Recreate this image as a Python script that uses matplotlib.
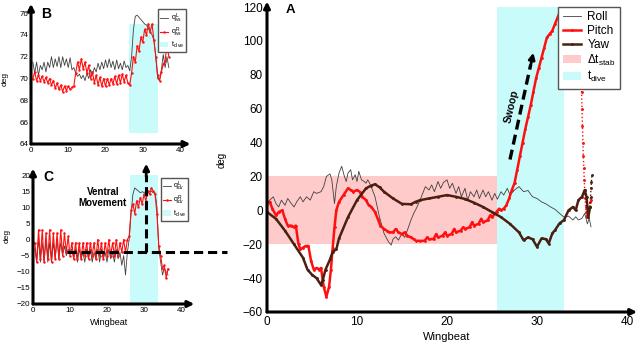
import numpy as np
import matplotlib
matplotlib.use('Agg')
import matplotlib.pyplot as plt

plt.rcParams['font.family'] = ['Liberation Sans', 'DejaVu Sans']

#########################
# DATA
#########################
# Panel A : body angles vs wingbeat
roll_x = [0, 0.3, 0.7, 1.0, 1.3, 1.6, 2.0, 2.3, 2.7, 3.0, 3.3, 3.7, 4.0, 4.4, 4.8, 5.2, 5.5, 6.0, 6.3, 6.6,
          7.0, 7.2, 7.5, 7.7, 8.0, 8.3, 8.6, 8.8, 9.0, 9.3, 9.5, 9.8, 10.0, 10.2, 10.5, 10.8, 11.0, 11.2, 11.5, 12.0,
          12.5, 13.0, 13.5, 13.8, 14.0, 14.3, 14.6, 15.0, 15.3, 15.6, 16.0, 16.3, 16.6, 17.0, 17.3, 17.6, 18.0, 18.3, 18.6, 19.0,
          19.3, 19.6, 20.0, 20.3, 20.6, 21.0, 21.3, 21.6, 22.0, 22.3, 22.6, 23.0, 23.3, 23.6, 24.0, 24.3, 24.6, 25.0, 25.3, 25.6,
          26.0, 26.3, 26.7, 27.0, 27.5, 28.0, 28.5, 29.0, 29.5, 30.0, 30.5, 31.0, 31.5, 32.0, 32.5, 33.0, 33.5, 34.0, 34.3, 34.6,
          35.0, 35.3, 35.6, 35.8, 36.0]
roll_y = [2, 6, 8, 4, 2, 6, 3, 7, 4, 2, 5, 8, 5, 8, 6, 11, 10, 11, 14, 20,
          21.5, 18, 4, 14, 22, 26, 20, 17, 22, 24, 18, 21, 17, 23, 18, 17, 16, 18, 15, 8,
          -4, -13.6, -18.6, -20.5, -17, -15.6, -17.6, -13.6, -16, -11.7, -5.7, -1.8, 1.2, 6, 10, 14, 12, 15, 11, 17,
          13, 16.4, 18, 13, 16, 10, 14, 8, 13, 6, 11, 8, 12, 7, 12, 8, 11, 6, 10, 6.5,
          11, 9, 13, 9, 12, 14, 11, 11.7, 8, 7, 5, 3.8, 2, 0.6, -1.8, -4, -3.4, -5.7, -3.8, -5.7,
          -4.7, -1.8, -8, -4.7, -9.7]

pitch_x = [0, 0.3, 0.6, 1.0, 1.3, 1.7, 2.0, 2.3, 2.7, 3.0, 3.2, 3.5, 3.7, 4.0, 4.3, 4.6, 4.9, 5.2, 5.5, 5.8,
           6.0, 6.3, 6.6, 6.9, 7.1, 7.3, 7.5, 7.7, 8.0, 8.5, 9.0, 9.3, 9.6, 10.0, 10.3, 10.6, 11.0, 11.3, 11.6, 12.0,
           12.3, 12.6, 13.0, 13.3, 13.6, 14.0, 14.3, 14.6, 15.0, 15.3, 15.6, 16.0, 16.3, 16.6, 17.0, 17.5, 17.8, 18.0, 18.5, 18.8,
           19.0, 19.5, 19.8, 20.0, 20.5, 20.8, 21.0, 21.5, 21.8, 22.0, 22.5, 22.8, 23.0, 23.5, 23.8, 24.0, 24.5, 24.8, 25.0, 25.5,
           25.8, 26.0, 26.3, 26.6, 26.9, 27.2, 27.5, 27.8, 28.1, 28.4, 28.7, 29.0, 29.3, 29.6, 29.9, 30.2, 30.5, 30.8, 31.1, 31.4,
           31.7, 32.0, 32.3, 32.6, 33.0]
pitch_y = [5, 5, 1, -3, -1, 0, -5, -9, -9, -10, -9, -20, -23, -22, -21, -21, -30, -35, -34, -35,
           -34, -45, -51, -45, -35, -22, -10, 0, 5, 9, 13, 12, 11, 12, 11, 8, 6, 3, 2, -1,
           -5, -9, -11, -12, -13, -13, -11, -13, -14, -13, -15, -16, -17, -18, -18, -18, -16, -17, -17, -14,
           -16, -15, -13, -15, -14, -11, -13, -12, -10, -11, -10, -7, -9, -8, -5, -7, -6, -3, -4, -1,
           1, 0, 1, 3, 7, 12, 16, 24, 32, 40, 48, 55, 62, 70, 78, 84, 90, 96, 102, 104,
           106, 110, 114, 118, 122]
# sparse tail of pitch (drawn dotted)
pitch_tail_x = [34.85, 34.9, 34.95, 35.0, 35.05, 35.1, 35.15, 35.2, 35.25, 35.3, 35.35, 35.4, 35.45, 35.5,
                35.55, 35.6, 35.7, 35.8, 35.9, 36.0]
pitch_tail_y = [125, 80, 70, 60, 50, 40, 32, 25, 18, 12, 7, 2, -1, -3, -4, -4, -2, 2, 5, 6]

yaw_x = [0, 1, 2, 3, 4, 4.5, 5, 5.5, 6, 6.2, 6.5, 7, 7.3, 7.7, 8, 9, 10, 11, 11.5, 12,
         12.5, 13, 14, 15, 16, 16.5, 17, 18, 19, 20, 21, 22, 23, 24, 25, 26, 27, 28, 28.5, 29,
         29.5, 30, 30.5, 31, 31.3, 31.7, 32, 32.5, 33, 33.5, 34, 34.3, 34.6, 35, 35.3, 35.5, 35.7, 35.9]
yaw_y = [-1, -5, -12, -20, -28, -35, -38, -40, -44, -41, -35, -29, -24.5, -23, -16.6, -4, 6, 13, 14.4, 15.4,
         13.6, 11, 7, 3.8, 3.6, 5, 6, 7, 8, 9, 8, 6.7, 4.5, 2, -1, -4, -8, -13, -17.6, -16,
         -17, -21.5, -16.6, -17, -19.6, -13.6, -11.7, -7.7, -5.7, 0, 2, 0, 6, 8, 12, 8, -4, 2]
yaw_tail_x = [35.9, 35.95, 36.0, 36.05, 36.1]
yaw_tail_y = [2, 8, 13, 17, 21]

STAB_A = [0, 25.5]      # pink band, -20..20 deg
DIVE_A = [25.5, 33.0]   # cyan band

# Panel B : q_vs left/right
wb_half = np.arange(0.5, 37.5, 0.5)
qL_vs = [71.5, 70.5, 71.5, 70.3, 71.2, 70.8, 71.5, 70.6, 71.5, 71.0, 72.0, 71.0, 71.8, 71.1, 72.0, 71.0, 72.0, 71.2, 71.8, 71.0,
         71.9, 70.8, 71.0, 70.5, 70.2, 70.4, 70.0, 70.3, 69.8, 70.5, 70.0, 70.8, 70.3, 71.0, 70.6, 71.4, 70.8, 71.5, 70.9, 71.7,
         71.0, 71.8, 71.0, 71.6, 70.8, 71.7, 70.9, 71.4, 70.8, 71.6, 71.0, 71.2, 70.7, 72.0, 74.5, 75.7, 75.8, 75.6, 75.4, 75.2,
         75.0, 74.9, 74.6, 74.2, 74.0, 73.5, 72.0, 70.0, 69.8, 70.8, 72.2, 71.0, 72.0, 71.0]
qR_vs = [70.0, 70.6, 69.8, 70.3, 69.8, 70.2, 69.7, 70.1, 69.6, 70.0, 69.4, 69.8, 69.1, 69.6, 69.0, 69.4, 68.8, 69.3, 68.9, 69.3,
         69.0, 69.2, 69.3, 70.5, 71.5, 70.8, 71.8, 70.9, 71.5, 70.5, 71.2, 70.0, 70.6, 69.6, 70.3, 69.4, 70.1, 69.3, 70.0, 69.3,
         70.0, 69.4, 70.0, 69.5, 70.2, 69.5, 70.3, 69.6, 70.4, 69.7, 70.3, 69.6, 69.4, 70.5, 72.0, 71.5, 73.0, 72.5, 73.8, 73.3,
         74.5, 74.0, 75.0, 74.3, 75.0, 73.5, 72.0, 70.3, 69.8, 70.6, 71.3, 71.6, 73.2, 72.0]
DIVE_B = [26.3, 34.0]   # cyan box, 65..75 deg

# Panel C : q_dv left/right
wb_c = np.arange(0.5, 37.0, 0.5)
qL_dv = [-3, -7, 0, -7, -1, -7, 0, -7, -1, -7, -1, -6, 0, -6, -1, -5, -2, -5, -3, -4,
         -3, -6, -3, -7, -3, -6, -4, -7, -3, -6, -3, -7, -4, -6, -3, -7, -3, -6, -4, -7,
         -3, -6, -4, -7, -3, -6, -4, -8, -5, -11, -4, 0, 8, 14, 16, 15.5, 15, 14.5, 14.8, 14.6,
         14.8, 14.5, 15, 15, 14.5, 14.5, 10, -3, -7, -11, -9, -10, -11]
qR_dv = [-1, -7, 3, -6, 3, -7, 2, -6, 3, -7, 2, -6, 2, -6, 3, -5, 2, -4, 1, -5,
         -1, -6, -1, -6, -1, -6, -1, -5, -1, -6, -1, -5, -1, -6, 0, -5, -1, -6, -1, -5,
         0, -5, -1, -5, 0, -5, -1, -4, 0, -4, 0, 1, 9, 11, 8, 12, 10, 13, 11, 14,
         12, 15, 14, 16, 15, 14, 8, -2, -5, -9, -8, -12, -9]
DIVE_C = [26.2, 33.7]

#########################
# STYLE
#########################
PINK = '#ffcaca'
CYAN = '#c9fbfb'
RED = '#ff1010'
BROWN = '#4a2010'
GREY = '#404040'


def arrowAxes(ax, xext, yext):
    # black axis lines with arrow heads instead of spines
    for s in ax.spines.values():
        s.set_visible(False)
    kw = dict(arrowstyle='-|>', lw=2.2, color='k', mutation_scale=9, shrinkA=0, shrinkB=0)
    ax.annotate('', xy=(xext, 0), xytext=(0, 0), xycoords='axes fraction', arrowprops=kw)
    ax.annotate('', xy=(0, yext), xytext=(0, 0), xycoords='axes fraction', arrowprops=kw)
    ax.tick_params(length=0)


def smallLegend(ax, anchor):
    h, l = ax.get_legend_handles_labels()
    ax.legend([h[1], h[2], h[0]], [l[1], l[2], l[0]], loc='upper right', bbox_to_anchor=anchor,
              fontsize=5.2, fancybox=False, edgecolor='#555555', framealpha=1, handlelength=1.1,
              labelspacing=0.15, borderpad=0.3, handletextpad=0.3, borderaxespad=0)


fig = plt.figure(figsize=(6.4, 3.47), dpi=100)
W, H = 640.0, 347.0
axA = fig.add_axes([267 / W, 1 - 312 / H, 360 / W, 305 / H])
axB = fig.add_axes([31 / W, 1 - 144 / H, 149 / W, 131 / H])
axC = fig.add_axes([33 / W, 1 - 304 / H, 148 / W, 129 / H])

#########################
# Panel B
#########################
axB.fill_between(DIVE_B, 65, 75, color=CYAN, lw=0, label=r'$\mathregular{t_{dive}}$')
axB.plot(wb_half, qL_vs, color=GREY, lw=0.6, label=r'$\mathregular{q^L_{vs}}$')
axB.plot(wb_half, qR_vs, color=RED, lw=0.8, marker='.', ms=1.5, label=r'$\mathregular{q^R_{vs}}$')
axB.set_xlim(0, 40)
axB.set_ylim(64, 76)
axB.set_xticks([0, 10, 20, 30, 40])
axB.set_yticks(np.arange(64, 77, 2))
axB.tick_params(labelsize=5.8, pad=2)
axB.set_ylabel('deg', fontsize=6)
axB.yaxis.set_label_coords(-0.15, 0.5)
arrowAxes(axB, 1.07, 1.07)
axB.text(0.07, 0.99, 'B', transform=axB.transAxes, fontsize=10, fontweight='bold', va='center')
smallLegend(axB, (1.04, 1.03))

#########################
# Panel C
#########################
axC.fill_between(DIVE_C, -20, 20, color=CYAN, lw=0, label=r'$\mathregular{t_{dive}}$')
axC.plot(wb_c, qL_dv, color=GREY, lw=0.6, label=r'$\mathregular{q^L_{dv}}$')
axC.plot(wb_c, qR_dv, color=RED, lw=0.8, marker='.', ms=1.5, label=r'$\mathregular{q^R_{dv}}$')
axC.set_xlim(0, 40)
axC.set_ylim(-20, 20)
axC.set_xticks([0, 10, 20, 30, 40])
axC.set_yticks(np.arange(-20, 21, 5))
axC.tick_params(labelsize=5.8, pad=2)
axC.set_ylabel('deg', fontsize=6)
axC.yaxis.set_label_coords(-0.15, 0.53)
axC.set_xlabel('Wingbeat', fontsize=6.5)
axC.xaxis.set_label_coords(0.515, -0.11)
arrowAxes(axC, 1.09, 1.05)
axC.text(0.07, 0.985, 'C', transform=axC.transAxes, fontsize=10, fontweight='bold', va='center')
axC.text(18.9, 12.9, 'Ventral\nMovement', fontsize=7, fontweight='bold', ha='center', va='center',
         linespacing=1.1)
# dashed step arrow
axC.plot([9.3, 52.4], [-4, -4], color='k', lw=2.2, ls=(0, (3, 1.6)), clip_on=False)
axC.plot([30.6, 30.6], [-4, 20], color='k', lw=2.2, ls=(0, (3, 1.6)), clip_on=False)
axC.annotate('', xy=(30.6, 23.5), xytext=(30.6, 19.5), annotation_clip=False,
             arrowprops=dict(arrowstyle='-|>', lw=2, color='k', mutation_scale=9, shrinkA=0, shrinkB=0))
smallLegend(axC, (1.05, 0.98))

#########################
# Panel A
#########################
axA.fill_between(STAB_A, -20, 20, color=PINK, lw=0, label=r'$\mathregular{\Delta t_{stab}}$')
axA.fill_between(DIVE_A, -60, 120, color=CYAN, lw=0, label=r'$\mathregular{t_{dive}}$')
axA.plot(roll_x, roll_y, color=GREY, lw=0.6, label='Roll')
axA.plot(pitch_x, pitch_y, color=RED, lw=1.8, marker='.', ms=2, label='Pitch')
axA.plot(pitch_tail_x, pitch_tail_y, color=RED, lw=1.0, ls=':', marker='.', ms=2.2)
axA.plot(yaw_x, yaw_y, color=BROWN, lw=1.8, marker='.', ms=2, label='Yaw')
axA.plot(yaw_tail_x, yaw_tail_y, color=BROWN, lw=1.0, ls=':', marker='.', ms=2.2)
axA.set_xlim(0, 40)
axA.set_ylim(-60, 120)
axA.set_xticks([0, 10, 20, 30, 40])
axA.set_yticks(np.arange(-60, 121, 20))
axA.tick_params(labelsize=8.5, pad=3)
axA.set_ylabel('deg', fontsize=7)
axA.yaxis.set_label_coords(-0.111, 0.5)
axA.set_xlabel('Wingbeat', fontsize=8)
axA.xaxis.set_label_coords(0.5, -0.065)
arrowAxes(axA, 1.028, 1.018)
axA.text(0.064, 0.99, 'A', transform=axA.transAxes, fontsize=9.5, fontweight='bold', ha='center', va='center')
# swoop arrow
axA.plot([27.0, 29.3], [30, 86], color='k', lw=2.4, ls=(0, (3, 1.6)))
axA.annotate('', xy=(29.6, 93), xytext=(29.25, 84.5),
             arrowprops=dict(arrowstyle='-|>', lw=2, color='k', mutation_scale=9, shrinkA=0, shrinkB=0))
axA.text(27.2, 61.5, 'Swoop', fontsize=7.5, fontweight='bold', rotation=77, ha='center', va='center')
hA, lA = axA.get_legend_handles_labels()
order = [2, 3, 4, 0, 1]
leg = axA.legend([hA[i] for i in order], [lA[i] for i in order], loc='upper right', bbox_to_anchor=(0.98, 1.0),
                 fontsize=8.5, fancybox=False, edgecolor='#555555', framealpha=1, handlelength=1.6,
                 labelspacing=0.15, borderpad=0.35, handletextpad=0.5, borderaxespad=0)

plt.savefig('out.png', dpi=100)
